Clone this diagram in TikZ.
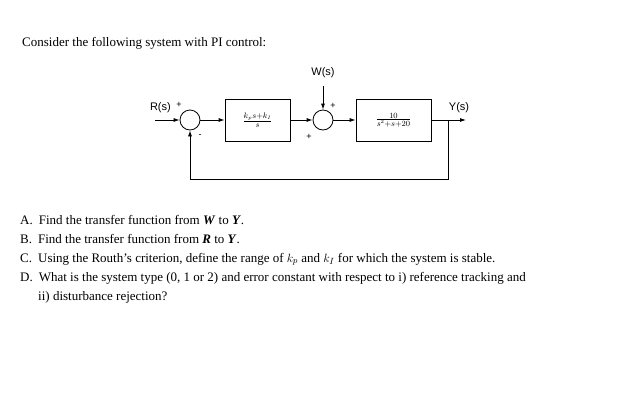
\documentclass[tikz,border=0pt]{standalone}
\usepackage{fontspec}
\setmainfont{Liberation Serif}
\newfontfamily\dsans{Liberation Sans}
\usetikzlibrary{arrows.meta}
\begin{document}
\begin{tikzpicture}[x=1pt,y=-1pt,
  blk/.style={draw,line width=0.8pt,minimum width=65pt,minimum height=42pt,inner sep=0pt,font=\dsans\fontsize{11}{12}\selectfont},
  sum/.style={draw,circle,line width=0.8pt,minimum size=20pt,inner sep=0pt},
  lab/.style={font=\dsans\fontsize{11}{12}\selectfont,inner sep=1pt},
  sg/.style={font=\dsans\fontsize{9}{10}\selectfont,inner sep=0pt},
  txt/.style={font=\fontsize{13}{15}\selectfont,anchor=base west,inner sep=0pt},
  ar/.style={-{Latex[length=6pt,width=4pt]},line width=0.8pt},
  ln/.style={line width=0.8pt}]
\useasboundingbox (0,0) rectangle (630,413);
\node[txt] (t0) at (22,46) {Consider the following system with PI control:};
\node[sum] (s1) at (190,120) {};
\node[blk] (b1) at (257.5,120) {$\frac{k_ps+k_I}{s}$};
\node[sum] (s2) at (323,120) {};
\node[blk,minimum width=75pt] (b2) at (393.5,120) {$\frac{10}{s^2+s+20}$};
\coordinate (rin) at (155,120);
\coordinate (yout) at (466,120);
\coordinate (tk) at (448,120);
\coordinate (fb1) at (448,179);
\coordinate (fb2) at (190,179);
\coordinate (win) at (323,86);
\node[lab,anchor=east] (R) at (172,108) {R(s)};
\node[sg] (p1) at (179,105) {+};
\node[sg] (m1) at (200,136) {-};
\node[lab] (W) at (323,73) {W(s)};
\node[sg] (p2) at (333,106) {+};
\node[sg] (p3) at (309,137) {+};
\node[lab] (Y) at (459,108) {Y(s)};
\draw[ar] (rin) -- (s1);
\draw[ar] (s1) -- (b1);
\draw[ar] (b1) -- (s2);
\draw[ar] (s2) -- (b2);
\draw[ar] (b2) -- (yout);
\draw[ar] (win) -- (s2);
\draw[ln] (tk) -- (fb1) -- (fb2);
\draw[ar] (fb2) -- (s1);
\node[txt] (qa) at (20,224) {A.\hspace{6pt}Find the transfer function from \textbf{\textit{W}} to \textbf{\textit{Y}}.};
\node[txt] (qb) at (20,243) {B.\hspace{6pt}Find the transfer function from \textbf{\textit{R}} to \textbf{\textit{Y}}.};
\node[txt] (qc) at (20,262) {C.\hspace{6pt}Using the Routh's criterion, define the range of $k_p$ and $k_I$ for which the system is stable.};
\node[txt] (qd) at (20,281) {D.\hspace{6pt}What is the system type (0, 1 or 2) and error constant with respect to i) reference tracking and};
\node[txt] (qd2) at (38,300) {ii) disturbance rejection?};
\end{tikzpicture}
\end{document}
